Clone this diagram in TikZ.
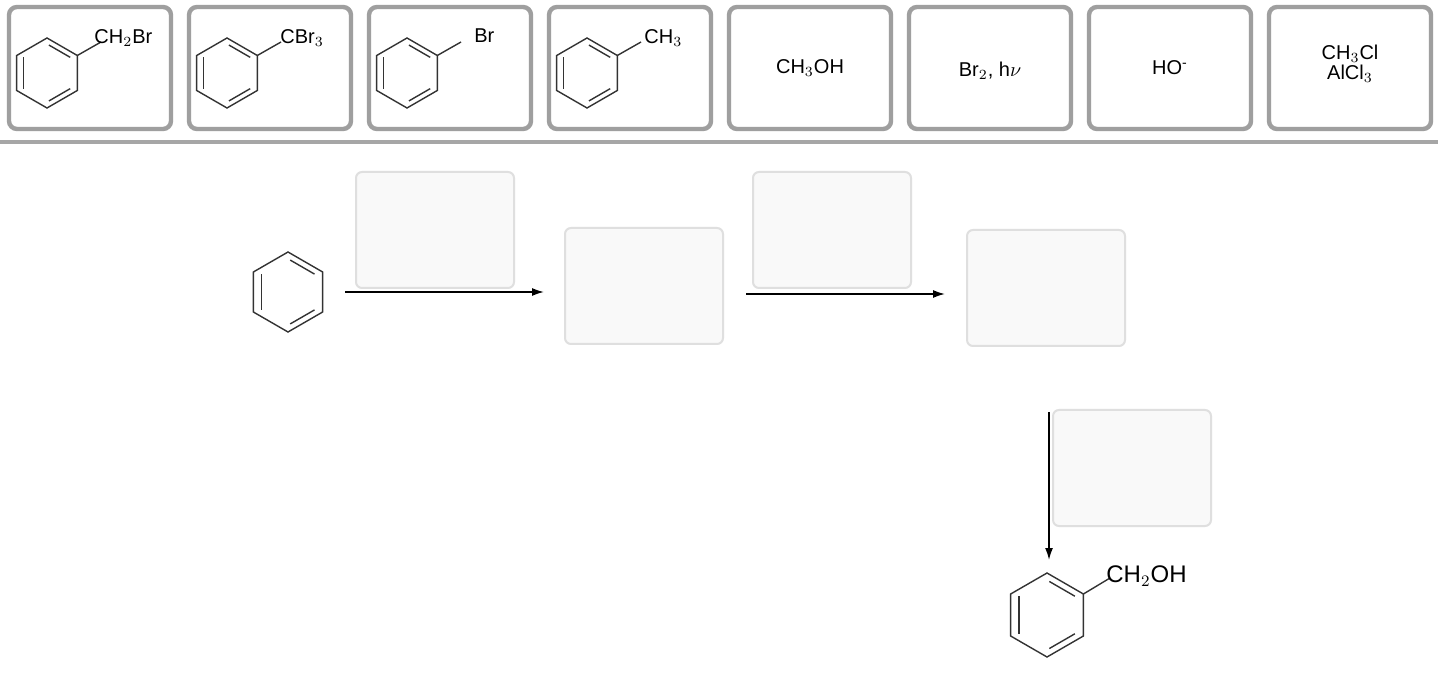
\documentclass[tikz,border=0pt]{standalone}
\usepackage{fontspec}
\setmainfont{Liberation Sans}
\usetikzlibrary{arrows.meta}
\begin{document}
\begin{tikzpicture}[x=0.5pt,y=-0.5pt,
  tile/.style={draw=gray!75,line width=2.2pt,rounded corners=4pt,fill=white},
  ans/.style={draw=gray!25,line width=1pt,rounded corners=3pt,fill=gray!5},
  lab/.style={font=\fontsize{10}{11}\selectfont,inner sep=0pt},
  bond/.style={line width=0.7pt,draw=black!80},
  arr/.style={line width=0.8pt,-{Latex[length=6pt,width=4pt]}},
  pics/benz/.style={code={
    \draw[bond] (90:1)--(30:1)--(-30:1)--(-90:1)--(-150:1)--(150:1)--cycle;
    \draw[bond] (86:0.8)--(34:0.8);
    \draw[bond] (-34:0.8)--(-86:0.8);
    \draw[bond] (-146:0.8)--(146:0.8);
  }}]
\useasboundingbox (0,0) rectangle (1438,694);
\fill[white] (0,0) rectangle (1438,694);
% tiles
\foreach \i in {0,...,7}{
  \node[tile,minimum width=162pt*0.5,minimum height=122pt*0.5] (t\i) at (90+180*\i,68) {};
}
\draw[gray!70,line width=2pt] (0,142)--(1438,142);
% tile molecules
\foreach \i in {0,1,2,3}{
  \coordinate (m\i) at ({47+180*\i},73);
  \pic[x=17.5pt,y=17.5pt] at (m\i) {benz};
  \coordinate (s\i) at ({47+180*\i+30.3},{73-17.5});
  \coordinate (e\i) at ({47+180*\i+54},{73-31});
  \draw[bond] (s\i)--(e\i);
}
\node[lab,anchor=west] (l0) at (94,38) {CH$_2$Br};
\node[lab,anchor=west] (l1) at (280,38) {CBr$_3$};
\node[lab,anchor=west] (l2) at (474,36) {Br};
\node[lab,anchor=west] (l3) at (644,38) {CH$_3$};
\node[lab] (l4) at (t4) {CH$_3$OH};
\node[lab] (l5) at ([yshift=-1.5pt]t5) {Br$_2$, h$\nu$};
\node[lab] (l6) at (t6) {HO\textsuperscript{-}};
\node[lab,align=center] (l7) at ([yshift=2pt]t7) {CH$_3$Cl\\[-1pt]AlCl$_3$};
% answer boxes
\node[ans,minimum width=158pt*0.5,minimum height=116pt*0.5] (b1) at (435,230) {};
\node[ans,minimum width=158pt*0.5,minimum height=116pt*0.5] (b2) at (644,286) {};
\node[ans,minimum width=158pt*0.5,minimum height=116pt*0.5] (b3) at (832,230) {};
\node[ans,minimum width=158pt*0.5,minimum height=116pt*0.5] (b4) at (1046,288) {};
\node[ans,minimum width=158pt*0.5,minimum height=116pt*0.5] (b5) at (1132,468) {};
% reaction
\coordinate (r0) at (288,292);
\pic[x=20pt,y=20pt] at (r0) {benz};
\coordinate (a1s) at (345,292); \coordinate (a1e) at (544,292);
\coordinate (a2s) at (746,294); \coordinate (a2e) at (945,294);
\coordinate (a3s) at (1049,412); \coordinate (a3e) at (1049,560);
\draw[arr] (a1s)--(a1e);
\draw[arr] (a2s)--(a2e);
\draw[arr] (a3s)--(a3e);
\coordinate (p0) at (1047,615);
\pic[x=21pt,y=21pt] at (p0) {benz};
\coordinate (ps) at (1083.4,594); \coordinate (pe) at (1110,578);
\draw[bond] (ps)--(pe);
\node[lab,anchor=west,font=\fontsize{12}{13}\selectfont] (pl) at (1106,576) {CH$_2$OH};
\end{tikzpicture}
\end{document}
